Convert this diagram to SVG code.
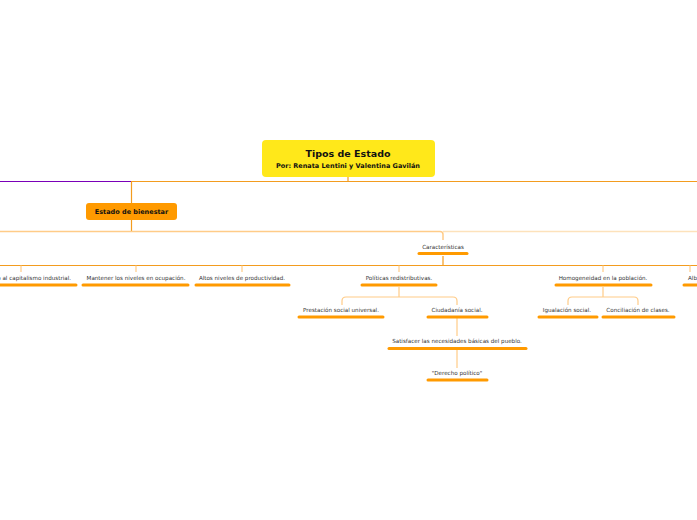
<svg xmlns="http://www.w3.org/2000/svg" width="697" height="520" viewBox="0 0 697 520">
<style>
text{font-family:"DejaVu Sans",Verdana,sans-serif;text-anchor:middle}
.s{font-size:5.6px;fill:#333}
.u{stroke:#ff9a00;stroke-width:3;stroke-linecap:round}
</style>
<rect width="697" height="520" fill="#fff"/>
<g id="connectors" fill="none">
<line x1="0" y1="181.5" x2="131" y2="181.5" stroke="#7a00b8" stroke-width="1"/>
<path stroke="#f39c1f" stroke-width="1.2" d="M131 181.5H697M348 177V181.5M131.5 181.5V203M131.5 220V231"/>
<path stroke="#ffcc88" stroke-width="1.5" d="M0 231.5H440q3 0 3 3V240"/>
<path stroke="#fde2bb" stroke-width="1.5" d="M443 231.5H697"/>
<path stroke="#f39c1f" stroke-width="1.2" d="M443 256V265.5M0 265.5H697"/>
<path stroke="#ffcc88" stroke-width="1.2" d="M21 265.5V272M136 265.5V272M242 265.5V272M399 265.5V272M603 265.5V272M690 265.5V272"/>
<path stroke="#ffcc88" stroke-width="1.2" d="M399 287V297M346 297H453q4 0 4 4V305M346 297q-4 0-4 4V305"/>
<path stroke="#ffcc88" stroke-width="1.2" d="M603 287V297M572 297H634q4 0 4 4V305M572 297q-4 0-4 4V305"/>
<path stroke="#ffcc88" stroke-width="1.2" d="M457 318V336M457 350V368"/>
</g>
<g id="title"><rect x="262" y="140" width="173" height="37" rx="4" fill="#ffe81a"/>
<text x="348" y="156.5" font-size="9.5" font-weight="bold" fill="#111">Tipos de Estado</text>
<text x="348" y="168" font-size="6.5" font-weight="bold" fill="#111">Por: Renata Lentini y Valentina Gavilán</text></g>
<g id="bienestar"><rect x="86" y="203" width="91" height="17" rx="3" fill="#ff9a00"/>
<text x="131.5" y="213.5" font-size="6.5" font-weight="bold" fill="#111">Estado de bienestar</text></g>
<g id="caracteristicas"><text class="s" x="443" y="248.5">Características</text><line class="u" x1="419" y1="253.5" x2="467" y2="253.5"/></g>
<g id="n1"><text class="s" x="71" y="279.5" style="text-anchor:end">Ligado al capitalismo industrial.</text><line class="u" x1="0" y1="285" x2="76" y2="285"/></g>
<g id="n2"><text class="s" x="136" y="279.5">Mantener los niveles en ocupación.</text><line class="u" x1="83" y1="285" x2="188" y2="285"/></g>
<g id="n3"><text class="s" x="242" y="279.5">Altos niveles de productividad.</text><line class="u" x1="196" y1="285" x2="289" y2="285"/></g>
<g id="n4"><text class="s" x="399" y="279.5">Políticas redistributivas.</text><line class="u" x1="362" y1="285" x2="436" y2="285"/></g>
<g id="n5"><text class="s" x="603" y="279.5">Homogeneidad en la población.</text><line class="u" x1="556" y1="285" x2="651" y2="285"/></g>
<g id="n6"><text class="s" x="688" y="279.5" style="text-anchor:start">Alb</text><line class="u" x1="684" y1="285" x2="697" y2="285"/></g>
<g id="n7"><text class="s" x="341" y="311.5">Prestación social universal.</text><line class="u" x1="299" y1="317" x2="383" y2="317"/></g>
<g id="n8"><text class="s" x="457" y="311.5">Ciudadanía social.</text><line class="u" x1="428" y1="317" x2="487" y2="317"/></g>
<g id="n9"><text class="s" x="567" y="311.5">Igualación social.</text><line class="u" x1="539" y1="317" x2="597" y2="317"/></g>
<g id="n10"><text class="s" x="638" y="311.5">Conciliación de clases.</text><line class="u" x1="603" y1="317" x2="674" y2="317"/></g>
<g id="n11"><text class="s" x="457" y="342.5">Satisfacer las necesidades básicas del pueblo.</text><line class="u" x1="389" y1="348.5" x2="526" y2="348.5"/></g>
<g id="n12"><text class="s" x="457" y="374.5">"Derecho político"</text><line class="u" x1="428" y1="380" x2="487" y2="380"/></g>
</svg>
